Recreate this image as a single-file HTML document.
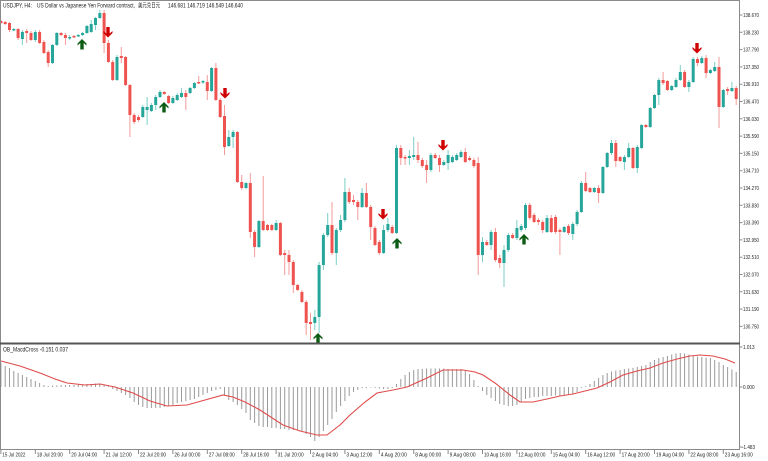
<!DOCTYPE html>
<html><head><meta charset="utf-8"><style>
html,body{margin:0;padding:0;background:#fff;}
svg{display:block;}
text{font-family:"Liberation Sans","Noto Sans CJK SC",sans-serif;fill:#222;}
</style></head><body>
<svg width="768" height="461" viewBox="0 0 768 461" xmlns="http://www.w3.org/2000/svg">
<rect x="0" y="0" width="768" height="461" fill="#fff"/>
<g transform="translate(-1.4,0)" fill="none">
<path stroke="#f29b99" stroke-width="1" d="M2.3 20V24M6.6 21V25M10.9 22V32M19.5 28V40M28.1 29V43M32.4 31V41M41 30V44M45.3 40V54M49.6 50V67M62.5 32V36M66.8 33V45M75.4 35V38M105.5 10V53M109.8 40V63M114.1 60V81M122.7 47V63M127 56V86M131.3 84V137M135.6 113V124M139.9 115V122M165.7 91V95M170 95V104M187.2 90V110M200.1 76V84M208.7 75V100M217.3 63V101M221.6 98V118M225.9 105V155M238.8 131V183M243.1 175V190M251.7 173V238M256 230V257M264.6 176V231M268.9 224V231M273.2 224V231M281.8 222V256M286.1 250V275M290.4 250V275M294.7 260V293M299 284V291M303.3 290V303M307.6 300V335M311.9 313V340M333.4 202V255M350.6 188V204M354.9 195V205M359.2 200V220M367.8 183V208M372.1 205V240M376.4 226V246M380.7 240V255M393.6 225V234M402.2 145V165M406.5 155V165M419.4 142V163M423.7 158V168M428 160V183M436.6 153V159M440.9 155V172M466.7 148V163M471 156V161M475.3 158V168M479.6 157V275M488.2 240V246M496.8 228V262M501.1 255V268M514 233V239M531.2 203V220M535.5 213V223M539.8 218V225M544.1 220V233M552.7 215V233M557 215V234M561.3 228V255M569.9 224V235M587.1 172V192M591.4 187V193M600 185V203M617.2 140V167M621.5 156V162M634.4 147V169M647.3 124V128M664.5 72V85M668.8 80V91M686 70V88M698.9 57V66M707.5 55V78M720.4 57V128M729 87V95M737.6 86V105"/>
<path stroke="#7ccfc6" stroke-width="1" d="M15.2 28V31M23.8 30V45M36.7 30V42M53.9 44V64M58.2 32V46M71.1 35V40M79.7 34V37M84 32V36M88.3 25V34M92.6 20V33M96.9 17V30M101.2 10V19M118.4 55V81M144.2 105V118M148.5 97V125M152.8 103V112M157.1 95V110M161.4 90V98M174.3 96V104M178.6 93V101M182.9 88V98M191.5 87V94M195.8 82V89M204.4 80V84M213 67V92M230.2 130V147M234.5 130V148M247.4 182V189M260.3 220V248M277.5 220V231M316.2 310V330M320.5 262V333M324.8 233V270M329.1 213V237M337.7 228V265M342 215V232M346.3 178V222M363.5 188V208M385 225V254M389.3 218V232M397.9 145V234M410.8 150V165M415.1 137V160M432.3 153V172M445.2 160V166M449.5 150V170M453.8 155V163M458.1 153V161M462.4 150V158M483.9 237V262M492.5 230V250M505.4 245V287M509.7 233V252M518.3 220V240M522.6 224V232M526.9 203V230M548.4 215V233M565.6 226V233M574.2 222V240M578.5 210V226M582.8 181V213M595.7 187V193M604.3 166V194M608.6 152V168M612.9 140V155M625.8 155V170M630.1 143V158M638.7 145V173M643 124V149M651.6 107V128M655.9 94V109M660.2 78V105M673.1 85V91M677.4 78V88M681.7 65V81M690.3 80V92M694.6 57V83M703.2 56V64M711.8 69V74M716.1 62V72M724.7 89V108M733.3 82V92"/>
<path stroke="#ef5350" stroke-width="3" d="M2.3 21V23M6.6 22V24M10.9 23V30M19.5 29V38M28.1 31V33M32.4 33V40M41 32V43M45.3 42V53M49.6 52V63M62.5 33V35M66.8 35V38M75.4 36V37.5M105.5 13V43M109.8 43V62M114.1 62V80M122.7 56V58M127 57V85M131.3 85V115M135.6 115V122M139.9 117V120M165.7 92V94M170 96V103M187.2 93V97M200.1 82V83.5M208.7 82V91M217.3 68V100M221.6 100V117M225.9 116V147M238.8 132V182M243.1 182V188M251.7 183V232M256 232V247M264.6 221V230M268.9 225V230M273.2 225V230M281.8 223V255M286.1 253V255M290.4 255V262M294.7 262V285M299 285V290M303.3 292V302M307.6 302V323M311.9 322V324M333.4 225V253M350.6 192V202M354.9 200V202M359.2 202V207M367.8 193V207M372.1 207V227M376.4 228V245M380.7 242V253M393.6 227V233M402.2 148V158M406.5 157V158.5M419.4 155V160M423.7 160V166M428 165V170M436.6 155V158M440.9 158V165M466.7 152V162M471 158V160M475.3 160V166M479.6 163V255M488.2 242V245M496.8 232V260M501.1 258V263M514 235V238M531.2 205V218M535.5 215V222M539.8 220V222M544.1 222V230M552.7 218V232M557 217V232M561.3 230V232M569.9 226V233M587.1 183V191M591.4 188V192M600 188V193M617.2 143V161M621.5 157V161M634.4 148V168M647.3 125V127M664.5 80V83M668.8 81V90M686 72V87M698.9 59V63M707.5 58V73M720.4 67V107M729 89V91M737.6 88V99"/>
<path stroke="#26a69a" stroke-width="3" d="M15.2 29V30.5M23.8 32V39M36.7 32V40M53.9 45V63M58.2 33V45M71.1 37V38.5M79.7 35V36.5M84 33V35M88.3 26V33M92.6 24V32M96.9 18V25M101.2 13V18M118.4 57V80M144.2 107V117M148.5 107V110M152.8 105V111M157.1 97V105M161.4 92V97M174.3 98V103M178.6 95V100M182.9 93V97M191.5 88V93M195.8 83V88M204.4 81V82.5M213 68V91M230.2 137V146M234.5 132V137M247.4 183V188M260.3 221V247M277.5 223V230M316.2 317V323M320.5 265V317M324.8 235V265M329.1 225V235M337.7 230V253M342 220V230M346.3 192V220M363.5 193V207M385 230V253M389.3 224V230M397.9 148V233M410.8 156V158M415.1 155V157M432.3 155V170M445.2 162V165M449.5 155V163M453.8 157V162M458.1 155V160M462.4 152V157M483.9 242V255M492.5 232V245M505.4 250V263M509.7 235V250M518.3 228V238M522.6 226V230M526.9 205V228M548.4 218V232M565.6 227V232M574.2 224V234M578.5 212V224M582.8 183V212M595.7 188V192M604.3 167V193M608.6 153V167M612.9 143V153M625.8 157V162M630.1 148V157M638.7 147V168M643 125V148M651.6 108V127M655.9 95V108M660.2 80V95M673.1 86V90M677.4 80V87M681.7 72V80M690.3 82V87M694.6 59V82M703.2 58V63M711.8 70V73M716.1 67V71M724.7 90V107M733.3 88V91"/>
<path stroke="#9a9a9a" stroke-width="1" d="M2.3 387V363M6.6 387V366M10.9 387V368M15.2 387V371M19.5 387V373M23.8 387V375M28.1 387V377M32.4 387V379M36.7 387V381M41 387V383M45.3 387V385M49.6 387V386M53.9 387V385.5M58.2 387V385.5M62.5 387V385M66.8 387V385M71.1 387V385M75.4 387V385M79.7 387V384.5M84 387V384.5M88.3 387V384M92.6 387V384M96.9 387V383.5M101.2 387V383.5M105.5 387V385M109.8 387V386M114.1 387V389M118.4 387V391M122.7 387V393M127 387V395M131.3 387V398M135.6 387V402M139.9 387V405M144.2 387V407M148.5 387V408M152.8 387V408M157.1 387V408M161.4 387V408M165.7 387V407M170 387V406M174.3 387V405M178.6 387V403M182.9 387V402M187.2 387V401M191.5 387V400M195.8 387V399M200.1 387V397M204.4 387V395M208.7 387V393M213 387V391M217.3 387V390M221.6 387V389M225.9 387V395M230.2 387V400M234.5 387V402M238.8 387V405M243.1 387V409M247.4 387V413M251.7 387V420M256 387V423M260.3 387V426M264.6 387V427M268.9 387V427M273.2 387V428M277.5 387V428M281.8 387V429M286.1 387V429M290.4 387V430M294.7 387V430M299 387V430M303.3 387V431M307.6 387V434M311.9 387V437M316.2 387V441M320.5 387V437M324.8 387V431M329.1 387V425M333.4 387V419M337.7 387V412M342 387V406M346.3 387V401M350.6 387V396M354.9 387V392M359.2 387V390M363.5 387V388M367.8 387V388M372.1 387V387.5M376.4 387V388M380.7 387V388.5M385 387V389M389.3 387V389M393.6 387V388M397.9 387V384M402.2 387V379M406.5 387V375M410.8 387V372M415.1 387V370M419.4 387V369M423.7 387V369M428 387V368.5M432.3 387V368.5M436.6 387V368.5M440.9 387V368.5M445.2 387V368.5M449.5 387V369M453.8 387V369M458.1 387V369M462.4 387V369M466.7 387V370M471 387V374M475.3 387V380M479.6 387V386M483.9 387V391M488.2 387V395M492.5 387V398M496.8 387V401M501.1 387V404M505.4 387V405M509.7 387V406M514 387V406M518.3 387V405M522.6 387V402M526.9 387V399M531.2 387V398M535.5 387V397M539.8 387V397M544.1 387V396M548.4 387V396M552.7 387V396M557 387V395.5M561.3 387V395.5M565.6 387V395M569.9 387V395M574.2 387V394M578.5 387V392M582.8 387V388M587.1 387V386M591.4 387V384M595.7 387V381M600 387V378M604.3 387V375M608.6 387V373M612.9 387V371.5M617.2 387V370.5M621.5 387V370M625.8 387V369M630.1 387V368.5M634.4 387V368M638.7 387V367M643 387V366M647.3 387V365M651.6 387V362M655.9 387V360M660.2 387V358M664.5 387V357M668.8 387V356M673.1 387V354.5M677.4 387V353.5M681.7 387V353M686 387V353.5M690.3 387V354.5M694.6 387V355.5M698.9 387V356.5M703.2 387V357M707.5 387V357.5M711.8 387V358M716.1 387V360M720.4 387V362M724.7 387V365M729 387V367M733.3 387V369.5M737.6 387V372"/>
</g>
<polyline fill="none" stroke="#e04a4a" stroke-width="1.1" points="1,361 20,366 40,373 55,379 67,383 85,385 100,384 115,387 133,393 150,401 167,406 187,405 205,400 223,395 233,397 245,402 260,410 283,425 300,431 317,435 327,435 340,425 350,415 365,402 377,393 393,390 407,387 427,378 443,370 463,370 475,372 483,375 495,383 510,395 520,402 533,402 547,399 560,396 573,394 585,391 597,388 610,382 623,375 637,371 650,368 663,363 677,359 690,356 700,355 713,356 725,359 735,363"/>
<g fill="#0c5c14">
<path d="M82 39L86.5 43.5L86.5 45.5L83.7 43L83.7 49.5L80.3 49.5L80.3 43L77.5 45.5L77.5 43.5Z"/>
<path d="M164 102L168.5 106.5L168.5 108.5L165.7 106L165.7 112.5L162.3 112.5L162.3 106L159.5 108.5L159.5 106.5Z"/>
<path d="M318 333L322.5 337.5L322.5 339.5L319.7 337L319.7 343.5L316.3 343.5L316.3 337L313.5 339.5L313.5 337.5Z"/>
<path d="M397 238L401.5 242.5L401.5 244.5L398.7 242L398.7 248.5L395.3 248.5L395.3 242L392.5 244.5L392.5 242.5Z"/>
<path d="M524 234L528.5 238.5L528.5 240.5L525.7 238L525.7 244.5L522.3 244.5L522.3 238L519.5 240.5L519.5 238.5Z"/>
</g>
<g fill="#d00000">
<path d="M108 37.5L112.5 33L112.5 31L109.7 33.5L109.7 27L106.3 27L106.3 33.5L103.5 31L103.5 33Z"/>
<path d="M225 98.5L229.5 94L229.5 92L226.7 94.5L226.7 88L223.3 88L223.3 94.5L220.5 92L220.5 94Z"/>
<path d="M383 219.5L387.5 215L387.5 213L384.7 215.5L384.7 209L381.3 209L381.3 215.5L378.5 213L378.5 215Z"/>
<path d="M443 150.5L447.5 146L447.5 144L444.7 146.5L444.7 140L441.3 140L441.3 146.5L438.5 144L438.5 146Z"/>
<path d="M697 53.5L701.5 49L701.5 47L698.7 49.5L698.7 43L695.3 43L695.3 49.5L692.5 47L692.5 49Z"/>
</g>
<g stroke="#8a8a8a" stroke-width="1" fill="none">
<path d="M0.5 0V450M0 0.5H740M739.5 0V450M0 449.5H740"/>
<path d="M740 15H742.5M740 32.3H742.5M740 49.6H742.5M740 66.9H742.5M740 84.2H742.5M740 101.5H742.5M740 118.8H742.5M740 136.1H742.5M740 153.4H742.5M740 170.7H742.5M740 188H742.5M740 205.3H742.5M740 222.6H742.5M740 239.9H742.5M740 257.2H742.5M740 274.5H742.5M740 291.8H742.5M740 309.1H742.5M740 326.4H742.5M740 347H742.5M740 387H742.5M740 447H742.5"/>
<path d="M0.9 450V454M35.3 450V454M69.7 450V454M104.1 450V454M138.5 450V454M172.9 450V454M207.3 450V454M241.7 450V454M276.1 450V454M310.5 450V454M344.9 450V454M379.3 450V454M413.7 450V454M448.1 450V454M482.5 450V454M516.9 450V454M551.3 450V454M585.7 450V454M620.1 450V454M654.5 450V454M688.9 450V454M723.3 450V454"/>
</g>
<path d="M0 343.5H740" stroke="#555" stroke-width="2"/>
<g font-size="6">
<text x="3" y="7.5" textLength="29" lengthAdjust="spacingAndGlyphs">USDJPY, H4:</text>
<text x="37" y="7.5" textLength="98" lengthAdjust="spacingAndGlyphs">US Dollar vs Japanese Yen Forward contract,</text>
<text x="138" y="7.5" textLength="22" lengthAdjust="spacingAndGlyphs">美元兑日元</text>
<text x="168" y="7.5" textLength="75" lengthAdjust="spacingAndGlyphs">146.681 146.719 146.549 146.640</text>
<text x="3" y="351.5" textLength="65" lengthAdjust="spacingAndGlyphs">OB_MacdCross -0.151 0.037</text>
</g>
<g font-size="5.5">
<text x="743" y="17" textLength="16" lengthAdjust="spacingAndGlyphs">138.670</text>
<text x="743" y="34.3" textLength="16" lengthAdjust="spacingAndGlyphs">138.230</text>
<text x="743" y="51.6" textLength="16" lengthAdjust="spacingAndGlyphs">137.790</text>
<text x="743" y="68.9" textLength="16" lengthAdjust="spacingAndGlyphs">137.350</text>
<text x="743" y="86.2" textLength="16" lengthAdjust="spacingAndGlyphs">136.910</text>
<text x="743" y="103.5" textLength="16" lengthAdjust="spacingAndGlyphs">136.470</text>
<text x="743" y="120.8" textLength="16" lengthAdjust="spacingAndGlyphs">136.030</text>
<text x="743" y="138.1" textLength="16" lengthAdjust="spacingAndGlyphs">135.590</text>
<text x="743" y="155.4" textLength="16" lengthAdjust="spacingAndGlyphs">135.150</text>
<text x="743" y="172.7" textLength="16" lengthAdjust="spacingAndGlyphs">134.710</text>
<text x="743" y="190" textLength="16" lengthAdjust="spacingAndGlyphs">134.270</text>
<text x="743" y="207.3" textLength="16" lengthAdjust="spacingAndGlyphs">133.830</text>
<text x="743" y="224.6" textLength="16" lengthAdjust="spacingAndGlyphs">133.390</text>
<text x="743" y="241.9" textLength="16" lengthAdjust="spacingAndGlyphs">132.950</text>
<text x="743" y="259.2" textLength="16" lengthAdjust="spacingAndGlyphs">132.510</text>
<text x="743" y="276.5" textLength="16" lengthAdjust="spacingAndGlyphs">132.070</text>
<text x="743" y="293.8" textLength="16" lengthAdjust="spacingAndGlyphs">131.630</text>
<text x="743" y="311.1" textLength="16" lengthAdjust="spacingAndGlyphs">131.190</text>
<text x="743" y="328.4" textLength="16" lengthAdjust="spacingAndGlyphs">130.750</text>
<text x="743" y="349" textLength="11.5" lengthAdjust="spacingAndGlyphs">1.013</text>
<text x="743" y="389" textLength="11.5" lengthAdjust="spacingAndGlyphs">0.000</text>
<text x="742" y="449" textLength="13" lengthAdjust="spacingAndGlyphs">-1.483</text>
</g>
<g font-size="5.5">
<text x="2.4" y="456.5" textLength="23" lengthAdjust="spacingAndGlyphs">15 Jul 2022</text>
<text x="36.8" y="456.5" textLength="26" lengthAdjust="spacingAndGlyphs">18 Jul 20:00</text>
<text x="71.2" y="456.5" textLength="26" lengthAdjust="spacingAndGlyphs">20 Jul 04:00</text>
<text x="105.6" y="456.5" textLength="26" lengthAdjust="spacingAndGlyphs">21 Jul 12:00</text>
<text x="140" y="456.5" textLength="26" lengthAdjust="spacingAndGlyphs">22 Jul 20:00</text>
<text x="174.4" y="456.5" textLength="26" lengthAdjust="spacingAndGlyphs">26 Jul 00:00</text>
<text x="208.8" y="456.5" textLength="26" lengthAdjust="spacingAndGlyphs">27 Jul 08:00</text>
<text x="243.2" y="456.5" textLength="26" lengthAdjust="spacingAndGlyphs">28 Jul 16:00</text>
<text x="277.6" y="456.5" textLength="26" lengthAdjust="spacingAndGlyphs">31 Jul 20:00</text>
<text x="312" y="456.5" textLength="26" lengthAdjust="spacingAndGlyphs">2 Aug 04:00</text>
<text x="346.4" y="456.5" textLength="26" lengthAdjust="spacingAndGlyphs">3 Aug 12:00</text>
<text x="380.8" y="456.5" textLength="26" lengthAdjust="spacingAndGlyphs">4 Aug 20:00</text>
<text x="415.2" y="456.5" textLength="26" lengthAdjust="spacingAndGlyphs">8 Aug 00:00</text>
<text x="449.6" y="456.5" textLength="26" lengthAdjust="spacingAndGlyphs">9 Aug 08:00</text>
<text x="484" y="456.5" textLength="27" lengthAdjust="spacingAndGlyphs">10 Aug 16:00</text>
<text x="518.4" y="456.5" textLength="27" lengthAdjust="spacingAndGlyphs">12 Aug 00:00</text>
<text x="552.8" y="456.5" textLength="27" lengthAdjust="spacingAndGlyphs">15 Aug 04:00</text>
<text x="587.2" y="456.5" textLength="28" lengthAdjust="spacingAndGlyphs">16 Aug 12:00</text>
<text x="621.6" y="456.5" textLength="28" lengthAdjust="spacingAndGlyphs">17 Aug 20:00</text>
<text x="656" y="456.5" textLength="28" lengthAdjust="spacingAndGlyphs">19 Aug 04:00</text>
<text x="690.4" y="456.5" textLength="28" lengthAdjust="spacingAndGlyphs">22 Aug 08:00</text>
<text x="724.8" y="456.5" textLength="28" lengthAdjust="spacingAndGlyphs">23 Aug 16:00</text>
</g>
</svg>
</body></html>
